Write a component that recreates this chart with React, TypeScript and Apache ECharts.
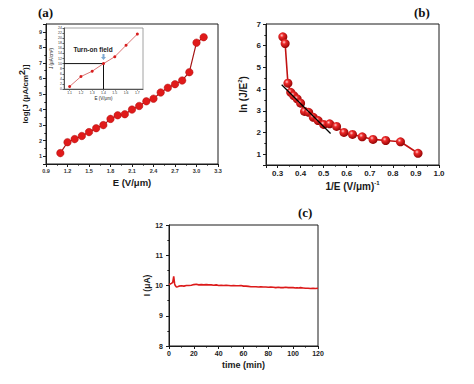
import React, { useEffect, useRef } from 'react';
import * as echarts from 'echarts';

// ---- Panel (a): log J vs E ----
const E_FIELD = [1.1, 1.2, 1.3, 1.4, 1.5, 1.6, 1.7, 1.8, 1.9, 2.0, 2.1, 2.2, 2.3, 2.4, 2.5, 2.6, 2.7, 2.8, 2.9, 3.0, 3.1];
const LOG_J = [1.2, 1.9, 2.1, 2.3, 2.55, 2.8, 3.0, 3.4, 3.63, 3.7, 4.0, 4.23, 4.53, 4.7, 5.1, 5.4, 5.63, 5.87, 6.4, 8.3, 8.65];

// ---- Inset: J vs E ----
const INSET_E = [1.1, 1.2, 1.3, 1.4, 1.5, 1.6, 1.7];
const INSET_J = [1.0, 4.9, 7.0, 10.0, 12.7, 17.2, 21.6];
const TURN_ON_E = 1.4;
const TURN_ON_J = 10;
const INSET_E_MIN = 1.05;
const INSET_J_MIN = 0;
const ARROW_J = 12.6;

// ---- Panel (b): F-N plot ----
const INV_E = [0.323, 0.333, 0.345, 0.357, 0.37, 0.385, 0.4, 0.417, 0.435, 0.455, 0.476, 0.5, 0.526, 0.556, 0.588, 0.625, 0.667, 0.714, 0.769, 0.833, 0.909];
const LN_JE2 = [6.41, 6.1, 4.27, 3.85, 3.7, 3.55, 3.35, 2.97, 2.93, 2.7, 2.55, 2.37, 2.4, 2.28, 2.0, 1.91, 1.8, 1.68, 1.63, 1.57, 1.04];
const FIT_X = [0.318, 0.53];
const FIT_Y = [4.2, 1.95];

// ---- Panel (c): stability ----
const TIME_MIN = [0, 1, 2, 3, 3.8, 4.5, 5, 6, 7, 8, 10, 12, 14, 16, 18, 20, 22, 24, 26, 28, 30, 32, 34, 36, 38, 40, 42, 44, 46, 48, 50, 52, 54, 56, 58, 60, 62, 64, 66, 68, 70, 72, 74, 76, 78, 80, 82, 84, 86, 88, 90, 92, 94, 96, 98, 100, 102, 104, 106, 108, 110, 112, 114, 116, 118, 120];
const CURRENT_UA = [10.03, 10.05, 10.07, 10.1, 10.3, 10.06, 10.0, 9.95, 9.96, 9.98, 9.99, 9.98, 10.0, 10.0, 10.01, 10.03, 10.04, 10.02, 10.03, 10.02, 10.03, 10.02, 10.02, 10.01, 10.02, 10.0, 10.01, 10.0, 10.01, 10.0, 9.99, 10.0, 9.99, 9.99, 10.0, 9.98, 9.98, 9.97, 9.96, 9.96, 9.96, 9.95, 9.96, 9.95, 9.95, 9.94, 9.95, 9.94, 9.93, 9.94, 9.93, 9.93, 9.94, 9.93, 9.93, 9.93, 9.92, 9.92, 9.93, 9.92, 9.91, 9.91, 9.9, 9.91, 9.9, 9.91];

const FONT = '"Liberation Sans", Arial, Helvetica, sans-serif';
const SERIF = '"Liberation Serif", "Times New Roman", serif';

function axis(gridIndex: number, o: any) {
  const { tickLen = 3, color = '#1a1a1a', minor = true, ...rest } = o;
  return {
    type: 'value',
    gridIndex,
    splitLine: { show: false },
    axisLine: { show: true, onZero: false, lineStyle: { color, width: 1 } },
    axisTick: { show: true, length: tickLen, lineStyle: { color, width: 1 } },
    minorTick: { show: minor, splitNumber: 2, length: tickLen * 0.55, lineStyle: { color, width: 1 } },
    nameLocation: 'middle',
    ...rest,
  };
}

const pair = (xs: number[], ys: number[]) => xs.map((x, i) => [x, ys[i]]);

export default function App() {
  const ref = useRef<HTMLDivElement>(null);
  useEffect(() => {
    const chart = echarts.init(ref.current!, null, { renderer: 'svg' });
    const sphere = {
      type: 'radial', x: 0.38, y: 0.35, r: 0.7,
      colorStops: [
        { offset: 0, color: '#ffd0d0' },
        { offset: 0.3, color: '#ee2a2a' },
        { offset: 1, color: '#8c0000' },
      ],
    };
    const option: any = {
      animation: false,
      backgroundColor: '#ffffff',
      textStyle: { fontFamily: FONT },
      grid: [
        { left: 46, top: 24, width: 172, height: 140, show: true, borderColor: '#1a1a1a', borderWidth: 1, backgroundColor: 'transparent' },
        { left: 64, top: 28, width: 79, height: 61, show: true, borderColor: '#8a8a8a', borderWidth: 0.8, backgroundColor: '#ffffff', z: 5 },
        { left: 266, top: 24, width: 173, height: 141, show: true, borderColor: '#1a1a1a', borderWidth: 1, backgroundColor: 'transparent' },
        { left: 169, top: 225, width: 149, height: 121, show: true, borderColor: '#1a1a1a', borderWidth: 1, backgroundColor: 'transparent' },
      ],
      xAxis: [
        axis(0, {
          min: 0.9, max: 3.3, interval: 0.3,
          axisLabel: { fontSize: 5.5, margin: 4, color: '#333', fontWeight: 'bold', fontFamily: FONT, formatter: (v: number) => v.toFixed(1) },
          name: 'E (V/μm)', nameGap: 13, nameTextStyle: { fontSize: 9.5, fontWeight: 'bold', color: '#1a1a1a', fontFamily: FONT },
        }),
        axis(1, {
          min: INSET_E_MIN, max: 1.75, splitNumber: 7, color: '#555', tickLen: 1.5, minor: false,
          axisLabel: { fontSize: 3.5, margin: 2, color: '#333', fontFamily: FONT, showMinLabel: false, showMaxLabel: false, formatter: (v: number) => v.toFixed(1) },
          name: 'E (V/μm)', nameGap: 6, nameTextStyle: { fontSize: 4.5, color: '#222', fontFamily: FONT },
          z: 6,
        }),
        axis(2, {
          min: 0.25, max: 1.0, splitNumber: 8, tickLen: 3,
          axisLabel: { fontSize: 8, margin: 4, color: '#222', fontWeight: 'bold', fontFamily: FONT, showMinLabel: false, formatter: (v: number) => v.toFixed(1) },
          name: '{a|1/E (V/μm)}{s|-1}', nameGap: 15,
          nameTextStyle: { rich: { a: { fontSize: 10, fontWeight: 'bold', color: '#1a1a1a', fontFamily: FONT }, s: { fontSize: 6, fontWeight: 'bold', color: '#1a1a1a', fontFamily: FONT, padding: [0, 0, 7, 0] } } },
        }),
        axis(3, {
          min: 0, max: 120, interval: 20,
          axisLabel: { fontSize: 7, margin: 4, color: '#222', fontWeight: 'bold', fontFamily: FONT },
          name: 'time (min)', nameGap: 14, nameTextStyle: { fontSize: 9, fontWeight: 'bold', color: '#1a1a1a', fontFamily: FONT },
        }),
      ],
      yAxis: [
        axis(0, {
          min: 0.5, max: 9.5, splitNumber: 9,
          axisLabel: { fontSize: 5.5, margin: 4, color: '#333', fontWeight: 'bold', fontFamily: FONT, showMinLabel: false, showMaxLabel: false },
          name: '{a|log[J (μA/cm}{s|2}{a|)]}', nameGap: 12,
          nameTextStyle: { rich: { a: { fontSize: 8, fontWeight: 'bold', color: '#1a1a1a', fontFamily: FONT }, s: { fontSize: 9, fontWeight: 'bold', color: '#1a1a1a', fontFamily: FONT, padding: [0, 0, 8, 0] } } },
        }),
        axis(1, {
          min: INSET_J_MIN, max: 24, interval: 2, color: '#555', tickLen: 1.5, minor: false,
          axisLabel: { fontSize: 3.5, margin: 2, color: '#333', fontFamily: FONT },
          name: 'J (μA/cm²)', nameGap: 8, nameTextStyle: { fontSize: 4.5, color: '#222', fontFamily: FONT },
          z: 6,
        }),
        axis(2, {
          min: 0.5, max: 7, splitNumber: 6,
          axisLabel: { fontSize: 8, margin: 5, color: '#222', fontWeight: 'bold', fontFamily: FONT, showMinLabel: false },
          name: '{a|ln (J/E}{s|2}{a|)}', nameGap: 16,
          nameTextStyle: { rich: { a: { fontSize: 10, fontWeight: 'bold', color: '#1a1a1a', fontFamily: FONT }, s: { fontSize: 6, fontWeight: 'bold', color: '#1a1a1a', fontFamily: FONT, padding: [0, 0, 7, 0] } } },
        }),
        axis(3, {
          min: 8, max: 12, interval: 1,
          axisLabel: { fontSize: 7, margin: 6, color: '#222', fontWeight: 'bold', fontFamily: FONT },
          name: 'I (μA)', nameGap: 15, nameTextStyle: { fontSize: 8.5, fontWeight: 'bold', color: '#1a1a1a', fontFamily: FONT },
        }),
      ],
      series: [
        {
          type: 'line', xAxisIndex: 0, yAxisIndex: 0, data: pair(E_FIELD, LOG_J),
          symbol: 'circle', symbolSize: 7.5, lineStyle: { color: '#a51515', width: 1.2 },
          itemStyle: { color: '#e01a1a', borderColor: '#b01010', borderWidth: 0.5 }, z: 3,
        },
        {
          type: 'line', xAxisIndex: 1, yAxisIndex: 1, data: pair(INSET_E, INSET_J),
          symbol: 'circle', symbolSize: 3, lineStyle: { color: '#d05050', width: 0.8 },
          itemStyle: { color: '#d81e1e' }, z: 8,
        },
        {
          type: 'line', xAxisIndex: 1, yAxisIndex: 1, data: [[INSET_E_MIN, TURN_ON_J], [TURN_ON_E, TURN_ON_J]],
          symbol: 'none', lineStyle: { color: '#111', width: 1 }, z: 7,
        },
        {
          type: 'line', xAxisIndex: 1, yAxisIndex: 1, data: [[TURN_ON_E, TURN_ON_J], [TURN_ON_E, INSET_J_MIN]],
          symbol: 'none', lineStyle: { color: '#111', width: 1 }, z: 7,
        },
        {
          type: 'scatter', xAxisIndex: 1, yAxisIndex: 1, data: [[TURN_ON_E, ARROW_J]],
          symbol: 'path://M3,0 L7,0 L7,5 L10,5 L5,10 L0,5 L3,5 Z', symbolSize: [5, 6],
          itemStyle: { color: '#5e92c8' }, z: 8,
        },
        {
          type: 'line', xAxisIndex: 2, yAxisIndex: 2, data: pair(INV_E, LN_JE2),
          symbol: 'circle', symbolSize: 9, lineStyle: { color: '#c01212', width: 1.6 },
          itemStyle: { color: sphere }, z: 3,
        },
        {
          type: 'line', xAxisIndex: 2, yAxisIndex: 2, data: pair(FIT_X, FIT_Y),
          symbol: 'none', lineStyle: { color: '#000', width: 1.3 }, z: 4,
        },
        {
          type: 'line', xAxisIndex: 3, yAxisIndex: 3, data: pair(TIME_MIN, CURRENT_UA),
          symbol: 'none', lineStyle: { color: '#dc1a1a', width: 1.6 }, z: 3,
        },
      ],
      graphic: [
        { type: 'text', left: 38, top: 6, style: { text: '(a)', font: `bold 13px ${SERIF}`, fill: '#111' } },
        { type: 'text', left: 414, top: 6, style: { text: '(b)', font: `bold 13px ${SERIF}`, fill: '#111' } },
        { type: 'text', left: 298, top: 206, style: { text: '(c)', font: `bold 13px ${SERIF}`, fill: '#111' } },
        { type: 'text', x: 93, y: 49, z: 20, style: { text: 'Turn-on field', font: `bold 6.5px ${FONT}`, fill: '#222', align: 'center', verticalAlign: 'middle' } },
      ],
    };
    chart.setOption(option);
    return () => chart.dispose();
  }, []);
  return <div ref={ref} style={{ position: 'fixed', left: 0, top: 0, width: 474, height: 384, background: '#fff' }} />;
}
